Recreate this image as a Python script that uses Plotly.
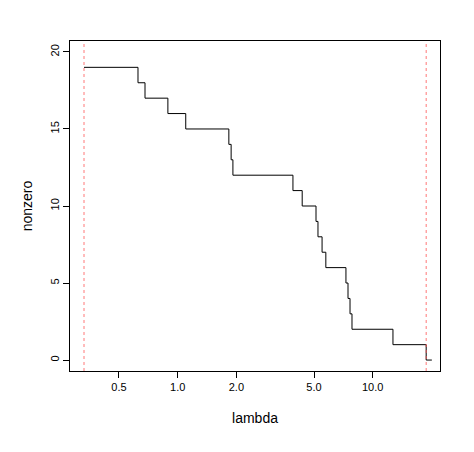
import plotly.graph_objects as go

# lambda at each step and nonzero count
lam = [0.331, 0.626, 0.680, 0.891, 1.10, 1.83, 1.88, 1.92, 3.90, 4.35, 5.12, 5.24, 5.50,
       5.75, 7.29, 7.47, 7.65, 7.83, 12.7, 18.8, 20.1]
nonzero = [19, 18, 17, 16, 15, 14, 13, 12, 11, 10, 9, 8, 7, 6, 5, 4, 3, 2, 1, 0, 0]
cut_lines = [0.331, 18.8]
x_ticks = [0.5, 1.0, 2.0, 5.0, 10.0]
x_labels = ["0.5", "1.0", "2.0", "5.0", "10.0"]
y_ticks = [0, 5, 10, 15, 20]

fig = go.Figure()
fig.add_trace(go.Scatter(x=lam, y=nonzero, mode="lines", line=dict(color="black", width=1, shape="hv"),
                         showlegend=False))
for v in cut_lines:
    fig.add_vline(x=v, line=dict(color="#ff5555", width=0.8, dash="3px,3px"))

axis_common = dict(showline=True, mirror=True, linecolor="black", linewidth=1, showgrid=False,
                   zeroline=False, ticks="outside", ticklen=6, tickcolor="black",
                   tickfont=dict(family="Liberation Sans", size=11, color="black"))
fig.update_layout(
    width=474, height=452, plot_bgcolor="white", paper_bgcolor="white",
    margin=dict(l=62, r=42, t=33, b=89),
    font=dict(family="Liberation Sans", size=12, color="black"),
    xaxis=dict(type="log", range=[-0.552, 1.345], tickvals=x_ticks, ticktext=x_labels,
               title=dict(text="lambda", standoff=20), **axis_common),
    yaxis=dict(range=[-0.71, 20.71], tickvals=y_ticks, tickangle=-90,
               title=dict(text="nonzero", standoff=12), **axis_common),
)
fig.write_html("out.html")
